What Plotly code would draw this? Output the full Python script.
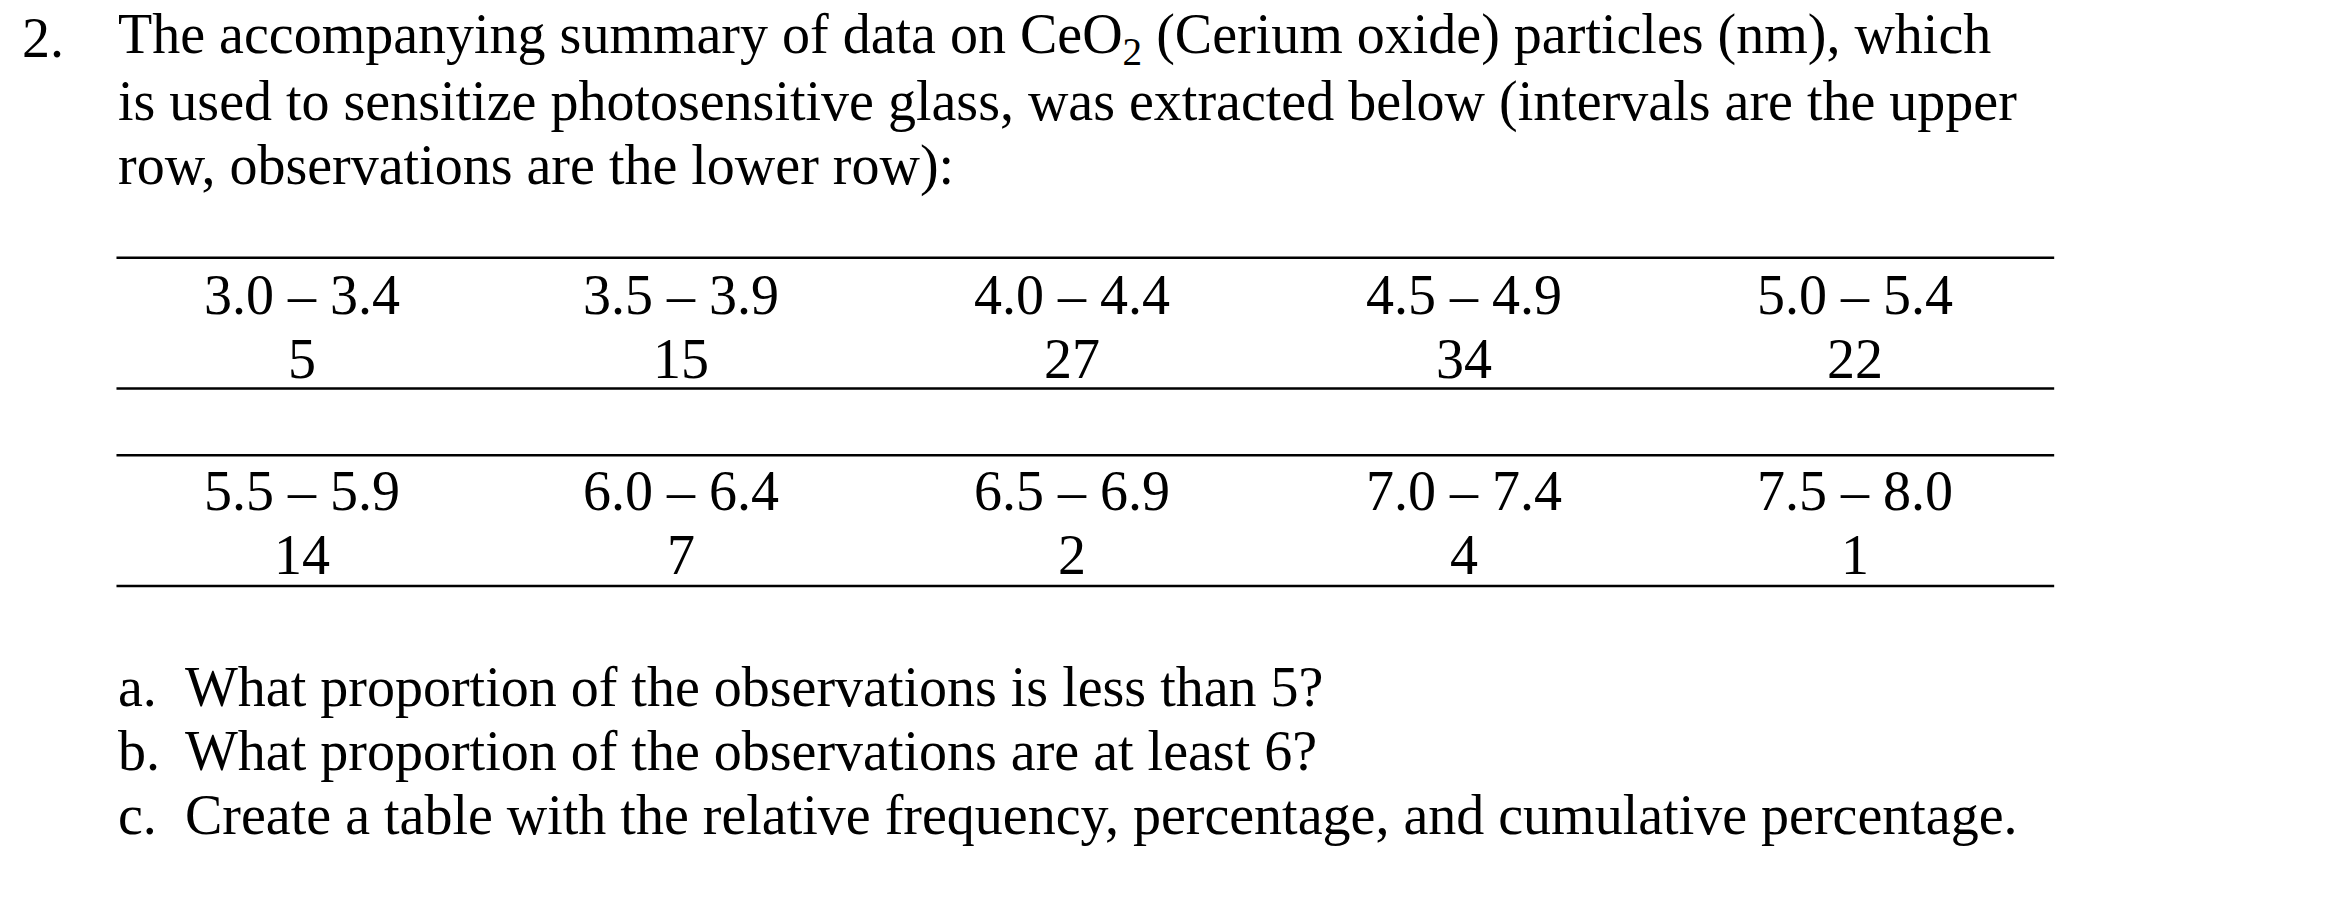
import plotly.graph_objects as go

intervals = ["3.0 – 3.4", "3.5 – 3.9", "4.0 – 4.4", "4.5 – 4.9", "5.0 – 5.4",
             "5.5 – 5.9", "6.0 – 6.4", "6.5 – 6.9", "7.0 – 7.4", "7.5 – 8.0"]
counts = [5, 15, 27, 34, 22, 14, 7, 2, 4, 1]
intro = ["The accompanying summary of data on CeO<sub>2</sub> (Cerium oxide) particles (nm), which",
         "is used to sensitize photosensitive glass, was extracted below (intervals are the upper",
         "row, observations are the lower row):"]
questions = [("a.", "What proportion of the observations is less than 5?"),
             ("b.", "What proportion of the observations are at least 6?"),
             ("c.", "Create a table with the relative frequency, percentage, and cumulative percentage.")]

S = 2330 / 1568
FONT = "Liberation Serif, Times New Roman, serif"
FS = 56
DX, DY = -7, -5

fig = go.Figure()
ann = []
def txt(x, y, t, anchor="left"):
    ann.append(dict(x=(x + (DX if anchor == "left" else -5)) * S, y=(y + DY) * S, text=t,
                    showarrow=False, xanchor=anchor, yanchor="middle",
                    font=dict(family=FONT, size=FS, color="black"), xref="x", yref="y"))

txt(15, 25, "2.")
for i, line in enumerate(intro):
    txt(80, 25 + 43 * i, line)
cols = [203, 458, 721, 985, 1248]
for r in range(2):
    yb = 198 + 132 * r
    for c in range(5):
        k = r * 5 + c
        txt(cols[c], yb, intervals[k], "center")
        txt(cols[c], yb + 43, str(counts[k]), "center")
for i, (lab, q) in enumerate(questions):
    txt(80, 462 + 43 * i, lab)
    txt(125, 462 + 43 * i, q)

shapes = [dict(type="line", x0=(78 - 5) * S, x1=(1382 - 5) * S, y0=(y - 5) * S, y1=(y - 5) * S,
               xref="x", yref="y", line=dict(color="black", width=2.5))
          for y in [173, 261, 306, 394]]

fig.update_layout(width=2330, height=898, margin=dict(l=0, r=0, t=0, b=0),
                  paper_bgcolor="white", plot_bgcolor="white",
                  xaxis=dict(range=[0, 2330], visible=False),
                  yaxis=dict(range=[898, 0], visible=False),
                  annotations=ann, shapes=shapes, showlegend=False)
fig.write_html("out.html")
